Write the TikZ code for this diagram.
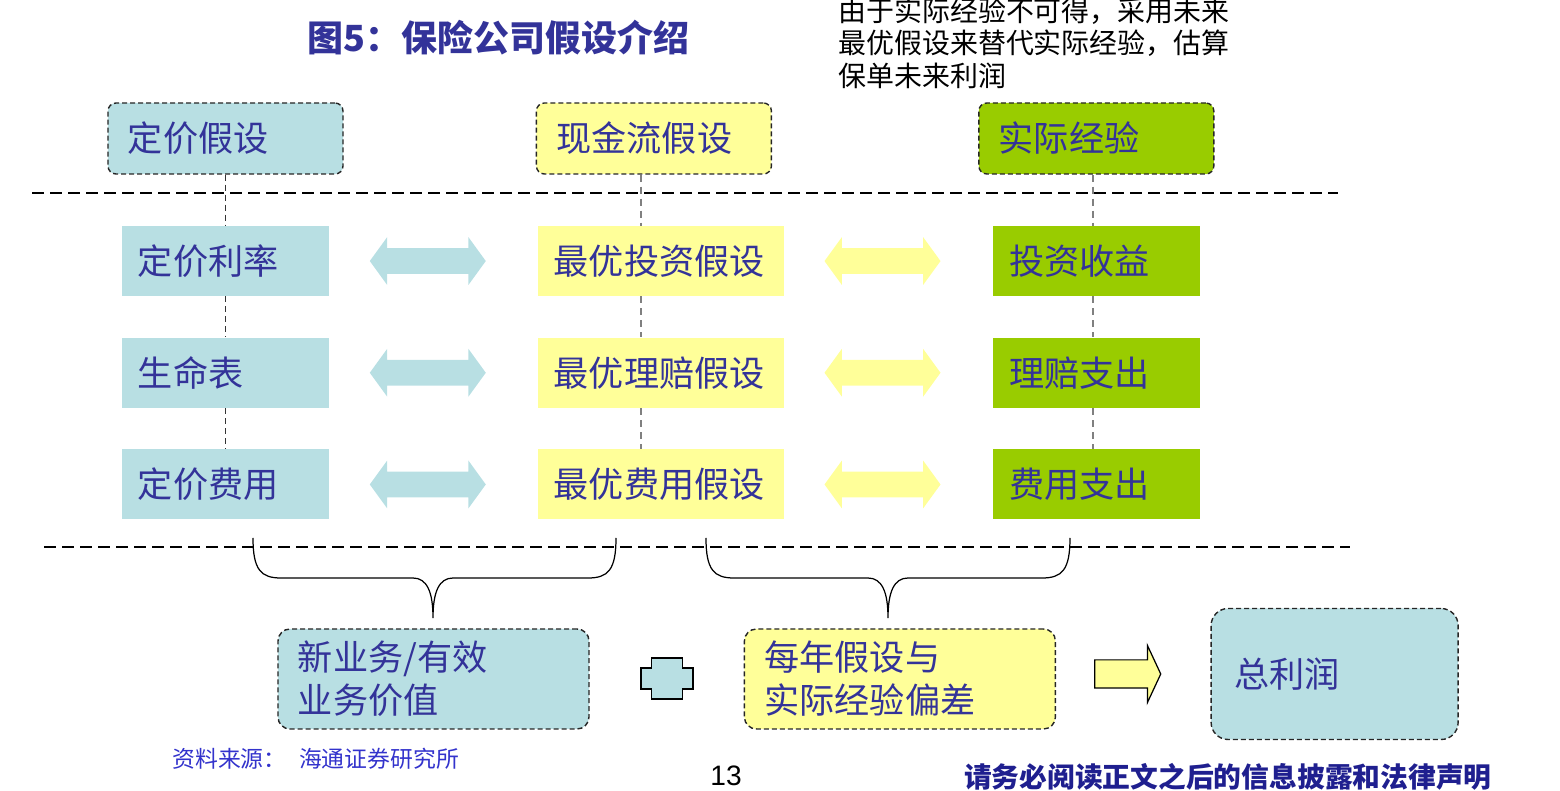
\documentclass[tikz,border=0pt]{standalone}
\usepackage{fontspec}
\setmainfont{Noto Sans CJK SC}
\newfontfamily\numfont{Liberation Sans}
\usepackage{tikz}
\usetikzlibrary{positioning, shapes.arrows}
\definecolor{paleblue}{HTML}{B8DFE3}
\definecolor{paleyellow}{HTML}{FFFF99}
\definecolor{leafgreen}{HTML}{99CC00}
\definecolor{inkblue}{HTML}{333399}
\definecolor{srcblue}{HTML}{3333CC}
\definecolor{discblue}{HTML}{1F1F8F}
\newcommand\boxfont{\fontsize{20}{24.5}\selectfont}
\tikzset{
  head/.style     = {draw=black!85, line width=0.8pt, dash pattern=on 1mm off 0.6mm,
                     rounded corners=1.6mm, minimum height=14.2mm, inner xsep=4mm,
                     text width=39mm, align=left, font=\boxfont, text=inkblue},
  item/.style     = {minimum height=14mm, inner xsep=3.2mm, align=left,
                     font=\boxfont, text=inkblue},
  itemA/.style    = {item, fill=paleblue, text width=35mm},
  itemB/.style    = {item, fill=paleyellow, text width=42.8mm},
  itemC/.style    = {item, fill=leafgreen, text width=35mm},
  valbox/.style   = {draw=black!85, line width=0.8pt, dash pattern=on 1mm off 0.6mm,
                     rounded corners=2.4mm, minimum height=20mm, inner xsep=4mm,
                     text width=54.2mm, align=left, font=\boxfont, text=inkblue},
  totbox/.style   = {valbox, rounded corners=3.4mm, minimum height=26.2mm,
                     inner xsep=4.6mm, text width=40.2mm, fill=paleblue},
  dblarrow/.style = {double arrow, draw=none, inner sep=2.5mm, minimum height=23.2mm,
                     double arrow head extend=2.2mm, double arrow tip angle=108},
  fwdarrow/.style = {single arrow, draw=black, line width=0.7pt, fill=paleyellow,
                     inner xsep=0pt, inner ysep=2.7mm, minimum height=13.2mm,
                     single arrow head extend=2.9mm, single arrow tip angle=130},
  sep/.style      = {line width=1.7pt, dash pattern=on 2.4mm off 1.2mm},
  linkdark/.style = {black!80, line width=0.8pt, dash pattern=on 1.2mm off 0.8mm},
  linkgray/.style = {black!50, line width=0.6pt, dash pattern=on 1.4mm off 1mm},
  brace/.style    = {line width=0.7pt},
  plus/.style     = {draw=black, line width=0.8pt, fill=paleblue},
}

\begin{document}
\begin{tikzpicture}[x=0.2mm, y=-0.2mm]
  \useasboundingbox (0,0) rectangle (1560,791);

  % Title and note
  \node[anchor=west, inner sep=0pt, text=inkblue,
        font=\bfseries\fontsize{20.5}{24}\selectfont] (ttl) at (307,38)
        {图5：保险公司假设介绍};
  \node[anchor=west, inner sep=0pt, align=left,
        font=\fontsize{15.9}{18.5}\selectfont] (nt) at (838,43)
        {由于实际经验不可得，采用未来\\最优假设来替代实际经验，估算\\保单未来利润};

  % Column heads
  \node[head, fill=paleblue] (hdrA) at (225.5,138.5) {定价假设};
  \node[head, fill=paleyellow, right=38.4mm of hdrA] (hdrB) {现金流假设};
  \node[head, fill=leafgreen,  right=41.2mm of hdrB] (hdrC) {实际经验};

  % Separators
  \draw[sep] (32,193) -- (1338,193);
  \draw[sep] (44,547) -- (1350,547);

  % Rows
  \node[itemA, below=10.2mm of hdrA] (rA1) {定价利率};
  \node[itemA, below=8.2mm of rA1]   (rA2) {生命表};
  \node[itemA, below=8.2mm of rA2]   (rA3) {定价费用};
  \node[itemB, right=41.6mm of rA1]  (rB1) {最优投资假设};
  \node[itemB, right=41.6mm of rA2]  (rB2) {最优理赔假设};
  \node[itemB, right=41.6mm of rA3]  (rB3) {最优费用假设};
  \node[itemC, right=41.8mm of rB1]  (rC1) {投资收益};
  \node[itemC, right=41.8mm of rB2]  (rC2) {理赔支出};
  \node[itemC, right=41.8mm of rB3]  (rC3) {费用支出};

  % Two-way arrows
  \foreach \i in {1,2,3} {
    \node[dblarrow, fill=paleblue,   right=8mm of rA\i] (dA\i) {};
    \node[dblarrow, fill=paleyellow, right=8mm of rB\i] (dB\i) {};
  }

  % Column links
  \coordinate (midx) at (641,0);
  \coordinate (rgtx) at (1093,0);
  \foreach \a/\b in {hdrA/rA1, rA1/rA2, rA2/rA3}
    \draw[linkdark] (\a) -- (\b);
  \foreach \a/\b in {hdrB/rB1, rB1/rB2, rB2/rB3}
    \draw[linkgray] (\a.south -| midx) -- (\b.north -| midx);
  \foreach \a/\b in {hdrC/rC1, rC1/rC2, rC2/rC3}
    \draw[linkgray] (\a.south -| rgtx) -- (\b.north -| rgtx);

  % Braces
  \foreach \l/\t/\r in {253/433/616, 706/888/1070}
    \draw[brace] (\l,538) .. controls (\l,570) and (\l+8,578) .. (\l+28,578)
      -- (\t-20,578) .. controls (\t-6,578) and (\t,592) .. (\t,618)
      .. controls (\t,592) and (\t+6,578) .. (\t+20,578)
      -- (\r-28,578) .. controls (\r-8,578) and (\r,570) .. (\r,538);

  % Bottom row
  \node[valbox, fill=paleblue] (vA) at (433.5,679) {新业务/有效\\业务价值};
  \draw[plus] (651.5,658) -- (682.5,658) -- (682.5,668) -- (693,668) -- (693,689)
    -- (682.5,689) -- (682.5,699) -- (651.5,699) -- (651.5,689) -- (641,689)
    -- (641,668) -- (651.5,668) -- cycle;
  \node[valbox, fill=paleyellow, right=30.8mm of vA] (vB) {每年假设与\\实际经验偏差};
  \node[fwdarrow, right=7.6mm of vB, yshift=1mm] (toTot) {};
  \node[totbox, right=9.8mm of toTot] (tot) {总利润};

  % Footer
  \node[anchor=west, inner sep=0pt, text=srcblue,
        font=\fontsize{13}{15}\selectfont] (src) at (172,759)
        {资料来源：\hspace{0.55em}海通证券研究所};
  \node[inner sep=0pt, font=\numfont\fontsize{16}{18}\selectfont] (pg) at (726,776) {13};
  \node[anchor=east, inner sep=0pt, text=discblue,
        font=\bfseries\fontsize{15.8}{18}\selectfont] (dsc) at (1492,777)
        {请务必阅读正文之后的信息披露和法律声明};
\end{tikzpicture}
\end{document}
